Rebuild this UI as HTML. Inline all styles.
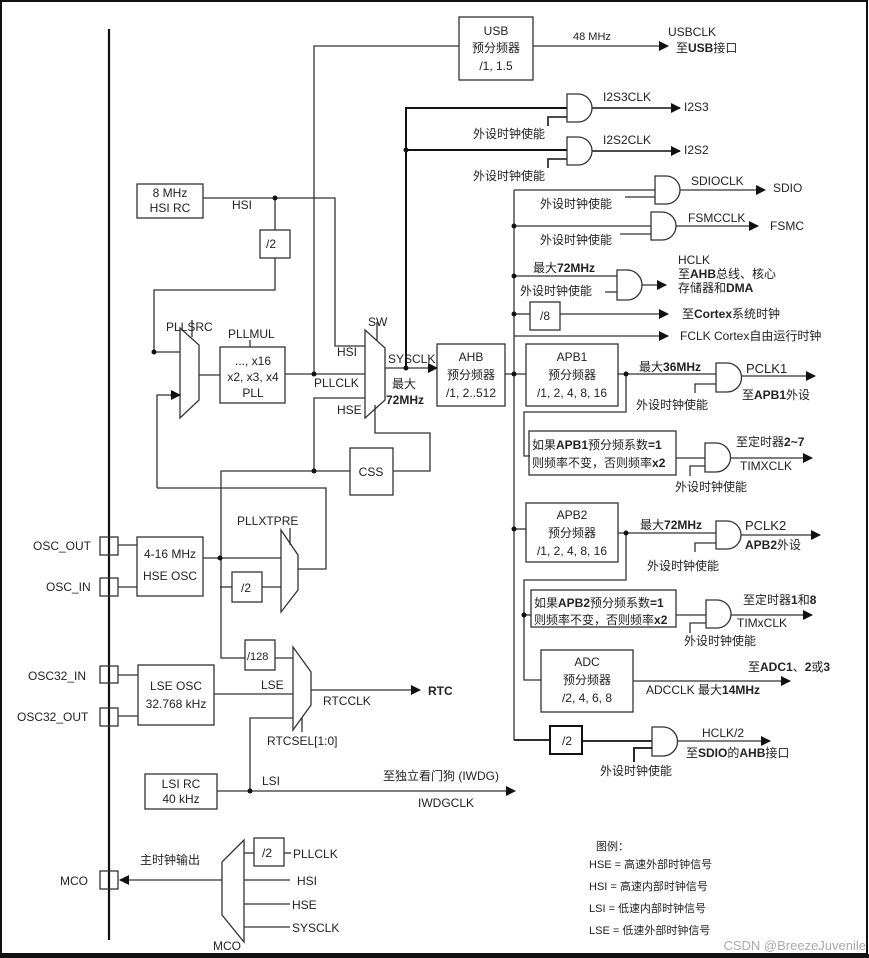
<!DOCTYPE html>
<html><head><meta charset="utf-8"><style>
html,body{margin:0;padding:0;background:#fff}
svg{display:block}
text{font-family:"Liberation Sans","Noto Sans CJK SC",sans-serif;font-size:12px;fill:#222}
.b{font-weight:bold}
.c{text-anchor:middle}
</style></head><body>
<svg width="869" height="958" viewBox="0 0 869 958" xmlns="http://www.w3.org/2000/svg">
<defs><marker id="a" markerWidth="10" markerHeight="10" refX="9" refY="5" orient="auto" markerUnits="userSpaceOnUse"><path d="M0,0 L10,5 L0,10 z" fill="#111"/></marker></defs>
<rect x="1" y="1" width="866" height="953" fill="none" stroke="#111" stroke-width="2"/>
<rect x="0" y="954" width="869" height="4" fill="#111"/>
<g stroke="#333" stroke-width="1.3" fill="none">
<line x1="109" y1="29" x2="109" y2="940" stroke="#111" stroke-width="2.2"/>
<!-- USB -->
<rect x="459" y="17" width="74" height="63"/>
<polyline points="314,374 314,46 459,46"/>
<line x1="533" y1="46" x2="668" y2="46" marker-end="url(#a)"/>
<!-- SYSCLK bus -->
<g stroke="#111" stroke-width="2">
<polyline points="406,368 406,108 567,108"/>
<line x1="406" y1="150" x2="567" y2="150"/>
</g>
<path d="M567,94 h11 a14,14 0 0 1 0,28 h-11 z"/>
<path d="M567,137 h11 a14,14 0 0 1 0,28 h-11 z"/>
<line x1="592" y1="108" x2="680" y2="108" marker-end="url(#a)" stroke-width="1.8"/>
<line x1="592" y1="151" x2="680" y2="151" marker-end="url(#a)" stroke-width="1.8"/>
<polyline points="548,126 548,117 567,117" stroke-width="1.8"/>
<polyline points="548,168 548,159 567,159" stroke-width="1.8"/>
<!-- AHB -->
<rect x="437" y="344" width="68" height="62"/>
<line x1="385" y1="368" x2="437" y2="368" marker-end="url(#a)"/>
<line x1="505" y1="374" x2="526" y2="374"/>
<line x1="514" y1="190" x2="514" y2="740"/>
<line x1="514" y1="190" x2="655" y2="190"/>
<path d="M655,176 h11 a14,14 0 0 1 0,28 h-11 z"/>
<line x1="680" y1="190" x2="765" y2="190" marker-end="url(#a)"/>
<line x1="625" y1="197" x2="655" y2="197"/>
<line x1="514" y1="226" x2="651" y2="226"/>
<path d="M651,212 h11 a14,14 0 0 1 0,28 h-11 z"/>
<line x1="676" y1="226" x2="758" y2="226" marker-end="url(#a)"/>
<line x1="620" y1="234" x2="651" y2="234"/>
<line x1="514" y1="276" x2="617" y2="276"/>
<path d="M617,270 h10 a15,15 0 0 1 0,30 h-10 z"/>
<line x1="605" y1="292" x2="617" y2="292"/>
<line x1="642" y1="285" x2="666" y2="285" marker-end="url(#a)"/>
<line x1="514" y1="314" x2="530" y2="314"/>
<rect x="530" y="302" width="30" height="28"/>
<line x1="560" y1="314" x2="668" y2="314" marker-end="url(#a)"/>
<line x1="514" y1="336" x2="668" y2="336" marker-end="url(#a)"/>
<!-- APB1 -->
<rect x="526" y="344" width="92" height="62"/>
<line x1="618" y1="374" x2="716" y2="374"/>
<path d="M716,363 h11 a14.5,14.5 0 0 1 0,29 h-11 z"/>
<line x1="741" y1="376" x2="815" y2="376" marker-end="url(#a)"/>
<polyline points="695,393 695,384 716,384"/>
<polyline points="626,374 626,412 524,412 524,456 530,456"/>
<rect x="529" y="431" width="147" height="44"/>
<line x1="676" y1="458" x2="705" y2="458"/>
<path d="M705,443 h11 a14.5,14.5 0 0 1 0,29 h-11 z"/>
<line x1="730" y1="458" x2="812" y2="458" marker-end="url(#a)"/>
<polyline points="690,476 690,466 705,466"/>
<!-- APB2 -->
<line x1="514" y1="529" x2="526" y2="529"/>
<rect x="526" y="503" width="92" height="59"/>
<line x1="618" y1="533" x2="716" y2="533"/>
<path d="M716,521 h11 a14,14 0 0 1 0,28 h-11 z"/>
<line x1="741" y1="535" x2="820" y2="535" marker-end="url(#a)"/>
<polyline points="695,552 695,543 716,543"/>
<polyline points="626,533 626,580 524,580 524,680 541,680"/>
<line x1="524" y1="615" x2="531" y2="615"/>
<rect x="531" y="590" width="145" height="37"/>
<line x1="676" y1="615" x2="706" y2="615"/>
<path d="M706,600 h11 a14,14 0 0 1 0,28 h-11 z"/>
<line x1="731" y1="615" x2="812" y2="615" marker-end="url(#a)"/>
<polyline points="690,633 690,623 706,623"/>
<rect x="541" y="650" width="92" height="62"/>
<line x1="633" y1="681" x2="790" y2="681" marker-end="url(#a)"/>
<polyline points="514,740 550,740" stroke="#111" stroke-width="1.8"/>
<rect x="550" y="726" width="32" height="28" stroke="#111" stroke-width="2"/>
<line x1="582" y1="741" x2="652" y2="741" stroke="#111" stroke-width="1.8"/>
<path d="M652,727 h11 a14.5,14.5 0 0 1 0,29 h-11 z"/>
<line x1="678" y1="741" x2="770" y2="741" marker-end="url(#a)"/>
<polyline points="634,762 634,748 652,748" stroke="#111" stroke-width="1.8"/>
<!-- HSI -->
<rect x="137" y="184" width="66" height="34"/>
<polyline points="203,198 335,198 335,346 365,346"/>
<line x1="275" y1="198" x2="275" y2="230"/>
<rect x="260" y="230" width="30" height="28"/>
<polyline points="275,258 275,290 154,290 154,352 180,352"/>
<path d="M180,328 L199,345 L199,400 L180,418 z"/>
<line x1="192" y1="320" x2="192" y2="337"/>
<polyline points="157,488 157,395 172,395"/>
<line x1="170" y1="395" x2="180" y2="395" marker-end="url(#a)"/>
<line x1="199" y1="375" x2="220" y2="375"/>
<rect x="220" y="347" width="65" height="56"/>
<line x1="250" y1="340" x2="250" y2="347"/>
<line x1="285" y1="374" x2="365" y2="374"/>
<path d="M365,330 L385,348 L385,400 L365,418 z"/>
<line x1="377" y1="322" x2="377" y2="340"/>
<polyline points="365,398 314,398 314,470"/>
<polyline points="375,405 375,433 430,433 430,471 393,471"/>
<rect x="350" y="448" width="43" height="47"/>
<polyline points="350,471 221,471 221,658 245,658"/>
<polyline points="157,488 326,488 326,569 298,569"/>
<!-- HSE -->
<rect x="137" y="537" width="66" height="59"/>
<rect x="100" y="537" width="18" height="18"/>
<rect x="100" y="578" width="18" height="18"/>
<line x1="118" y1="545" x2="137" y2="545"/>
<line x1="118" y1="587" x2="137" y2="587"/>
<line x1="203" y1="558" x2="281" y2="558"/>
<polyline points="220,587 232,587"/>
<rect x="232" y="572" width="30" height="30"/>
<line x1="262" y1="587" x2="281" y2="587"/>
<path d="M281,530 L298,555 L298,590 L281,612 z"/>
<line x1="290" y1="528" x2="290" y2="545"/>
<!-- RTC -->
<rect x="245" y="640" width="30" height="30"/>
<line x1="275" y1="658" x2="293" y2="658"/>
<path d="M293,647 L311,672 L311,705 L293,730 z"/>
<line x1="302" y1="718" x2="302" y2="732"/>
<line x1="311" y1="690" x2="420" y2="690" marker-end="url(#a)"/>
<rect x="138" y="665" width="76" height="60"/>
<rect x="100" y="666" width="18" height="17"/>
<rect x="100" y="708" width="18" height="18"/>
<line x1="118" y1="675" x2="138" y2="675"/>
<line x1="118" y1="716" x2="138" y2="716"/>
<line x1="214" y1="694" x2="293" y2="694"/>
<rect x="145" y="774" width="72" height="35"/>
<line x1="217" y1="791" x2="515" y2="791" marker-end="url(#a)"/>
<polyline points="250,791 250,718 293,718"/>
<!-- MCO -->
<rect x="100" y="871" width="18" height="18"/>
<line x1="222" y1="880" x2="120" y2="880" marker-end="url(#a)"/>
<path d="M244,840 L244,942 L222,915 L222,862 z"/>
<rect x="254" y="838" width="30" height="28"/>
<line x1="244" y1="853" x2="254" y2="853"/>
<line x1="284" y1="853" x2="291" y2="853"/>
<line x1="244" y1="880" x2="290" y2="880"/>
<line x1="244" y1="904" x2="290" y2="904"/>
<line x1="244" y1="927" x2="290" y2="927"/>
</g>
<g fill="#111">
<circle cx="406" cy="368" r="2.5"/><circle cx="406" cy="150" r="2.5"/>
<circle cx="514" cy="374" r="2.5"/><circle cx="514" cy="226" r="2.5"/><circle cx="514" cy="276" r="2.5"/><circle cx="514" cy="314" r="2.5"/><circle cx="514" cy="529" r="2.5"/>
<circle cx="626" cy="374" r="2.5"/><circle cx="626" cy="533" r="2.5"/><circle cx="524" cy="615" r="2.5"/>
<circle cx="275" cy="198" r="2.5"/><circle cx="154" cy="352" r="2.5"/><circle cx="314" cy="374" r="2.5"/><circle cx="314" cy="471" r="2.5"/>
<circle cx="220" cy="558" r="2.5"/><circle cx="250" cy="791" r="2.5"/>
</g>
<!-- texts -->
<text class="c" x="496" y="35">USB</text><text class="c" x="496" y="52">预分频器</text><text class="c" x="496" y="70">/1, 1.5</text>
<text x="573" y="40" style="font-size:11px">48 MHz</text><text x="668" y="36">USBCLK</text><text x="676" y="52">至<tspan class="b">USB</tspan>接口</text>
<text x="603" y="101">I2S3CLK</text><text x="684" y="111">I2S3</text><text x="473" y="138">外设时钟使能</text>
<text x="603" y="144">I2S2CLK</text><text x="684" y="154">I2S2</text><text x="473" y="180">外设时钟使能</text>
<text x="691" y="185">SDIOCLK</text><text x="773" y="192">SDIO</text><text x="540" y="208">外设时钟使能</text>
<text x="688" y="222">FSMCCLK</text><text x="770" y="230">FSMC</text><text x="540" y="244">外设时钟使能</text>
<text x="533" y="272">最大<tspan class="b">72MHz</tspan></text><text x="520" y="295">外设时钟使能</text>
<text x="678" y="264">HCLK</text><text x="678" y="278">至<tspan class="b">AHB</tspan>总线、核心</text><text x="678" y="292">存储器和<tspan class="b">DMA</tspan></text>
<text x="540" y="320">/8</text><text x="682" y="318">至<tspan class="b">Cortex</tspan>系统时钟</text>
<text x="680" y="340">FCLK Cortex自由运行时钟</text>
<text class="c" x="471" y="361">AHB</text><text class="c" x="471" y="379">预分频器</text><text class="c" x="471" y="397">/1, 2..512</text>
<text class="c" x="572" y="361">APB1</text><text class="c" x="572" y="379">预分频器</text><text class="c" x="572" y="397">/1, 2, 4, 8, 16</text>
<text x="639" y="371">最大<tspan class="b">36MHz</tspan></text><text x="746" y="373" style="font-size:13px">PCLK1</text><text x="742" y="399">至<tspan class="b">APB1</tspan>外设</text><text x="636" y="409">外设时钟使能</text>
<text x="532" y="449">如果<tspan class="b">APB1</tspan>预分频系数<tspan class="b">=1</tspan></text><text x="532" y="467">则频率不变，否则频率<tspan class="b">x2</tspan></text>
<text x="736" y="446">至定时器<tspan class="b">2~7</tspan></text><text x="740" y="470">TIMXCLK</text><text x="675" y="491">外设时钟使能</text>
<text class="c" x="572" y="519">APB2</text><text class="c" x="572" y="537">预分频器</text><text class="c" x="572" y="555">/1, 2, 4, 8, 16</text>
<text x="640" y="529">最大<tspan class="b">72MHz</tspan></text><text x="745" y="530" style="font-size:13px">PCLK2</text><text x="745" y="549"><tspan class="b">APB2</tspan>外设</text><text x="647" y="570">外设时钟使能</text>
<text x="534" y="607">如果<tspan class="b">APB2</tspan>预分频系数<tspan class="b">=1</tspan></text><text x="534" y="624">则频率不变，否则频率<tspan class="b">x2</tspan></text>
<text x="743" y="604">至定时器<tspan class="b">1</tspan>和<tspan class="b">8</tspan></text><text x="737" y="627">TIMxCLK</text><text x="684" y="645">外设时钟使能</text>
<text class="c" x="587" y="666">ADC</text><text class="c" x="587" y="684">预分频器</text><text class="c" x="587" y="702">/2, 4, 6, 8</text>
<text x="748" y="671">至<tspan class="b">ADC1</tspan>、<tspan class="b">2</tspan>或<tspan class="b">3</tspan></text><text x="646" y="694">ADCCLK  最大<tspan class="b">14MHz</tspan></text>
<text x="562" y="745">/2</text><text x="702" y="737">HCLK/2</text><text x="686" y="757">至<tspan class="b">SDIO</tspan>的<tspan class="b">AHB</tspan>接口</text><text x="600" y="775">外设时钟使能</text>
<text class="c" x="170" y="197">8 MHz</text><text class="c" x="170" y="212">HSI RC</text><text x="232" y="209">HSI</text>
<text x="266" y="248">/2</text><text x="166" y="331">PLLSRC</text><text x="228" y="338">PLLMUL</text>
<text class="c" x="253" y="365">..., x16</text><text class="c" x="253" y="381">x2, x3, x4</text><text class="c" x="253" y="397">PLL</text>
<text x="314" y="387">PLLCLK</text><text x="368" y="326">SW</text><text x="337" y="356">HSI</text><text x="337" y="414">HSE</text>
<text x="388" y="363">SYSCLK</text><text x="392" y="388">最大</text><text x="386" y="404" class="b">72MHz</text>
<text class="c" x="371" y="476">CSS</text><text x="237" y="525">PLLXTPRE</text>
<text class="c" x="170" y="558">4-16 MHz</text><text class="c" x="170" y="580">HSE OSC</text>
<text x="33" y="550">OSC_OUT</text><text x="46" y="591">OSC_IN</text><text x="241" y="592">/2</text>
<text x="247" y="660" style="font-size:11px">/128</text><text x="261" y="689">LSE</text>
<text class="c" x="176" y="690">LSE OSC</text><text class="c" x="176" y="708">32.768 kHz</text>
<text x="28" y="680">OSC32_IN</text><text x="17" y="721">OSC32_OUT</text>
<text x="323" y="705">RTCCLK</text><text x="428" y="695" class="b">RTC</text><text x="267" y="745">RTCSEL[1:0]</text>
<text class="c" x="181" y="788">LSI RC</text><text class="c" x="181" y="803">40 kHz</text><text x="262" y="785">LSI</text>
<text x="383" y="780">至独立看门狗 (IWDG)</text><text x="418" y="807">IWDGCLK</text>
<text x="60" y="885">MCO</text><text x="140" y="864">主时钟输出</text>
<text x="262" y="857">/2</text><text x="293" y="858">PLLCLK</text><text x="297" y="885">HSI</text><text x="292" y="909">HSE</text><text x="292" y="932">SYSCLK</text><text x="213" y="950">MCO</text>
<g style="font-size:11px"><text x="596" y="850" style="font-size:11px">图例：</text>
<text x="589" y="868" style="font-size:11px">HSE = 高速外部时钟信号</text>
<text x="589" y="890" style="font-size:11px">HSI = 高速内部时钟信号</text>
<text x="589" y="912" style="font-size:11px">LSI = 低速内部时钟信号</text>
<text x="589" y="934" style="font-size:11px">LSE = 低速外部时钟信号</text></g>
<text x="866" y="950" style="font-size:13px;fill:#aaa;text-anchor:end">CSDN @BreezeJuvenile</text>
</svg>
</body></html>
